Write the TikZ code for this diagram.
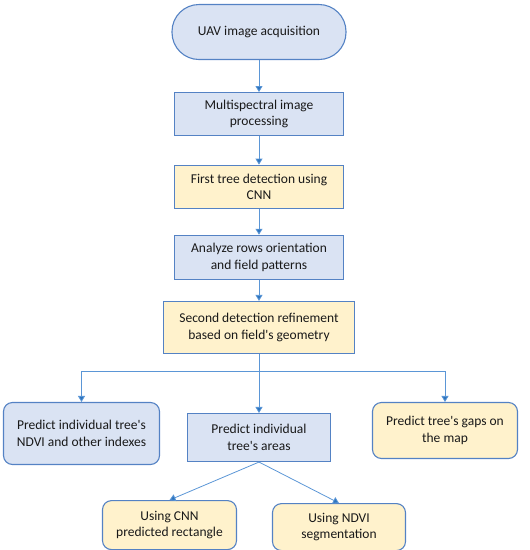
\documentclass[tikz,border=0pt]{standalone}
\usepackage{fontspec}
\setmainfont{Carlito}
\usetikzlibrary{arrows.meta, positioning}

\definecolor{boxline}{RGB}{84,130,196}
\definecolor{arrowline}{RGB}{91,150,214}
\definecolor{arrowtip}{RGB}{46,117,190}
\definecolor{bluefill}{RGB}{218,227,243}
\definecolor{yellowfill}{RGB}{255,242,204}
\newcommand{\apos}{\textquotesingle}

\begin{document}
\begin{tikzpicture}[
  every node/.style={draw=boxline, line width=1.1pt, rectangle, align=center, inner sep=0pt,
    font=\fontsize{13.5}{16.5}\selectfont, text=black!90},
  bluebox/.style={fill=bluefill},
  yellowbox/.style={fill=yellowfill},
  roundbox/.style={rounded corners=9pt},
  arrow/.style={-{Triangle[length=6pt,width=7pt,fill=arrowtip]}, draw=arrowline, line width=0.8pt}
]
\useasboundingbox (0,0) rectangle (530pt,-550pt);

% Main chain
\node[bluebox, rounded corners=27pt, minimum width=174pt, minimum height=55pt] (uav) at (259pt,-32pt) {UAV image acquisition};
\node[bluebox, minimum width=169pt, minimum height=43pt, below=32pt of uav] (multispectral) {Multispectral image\\processing};
\node[yellowbox, minimum width=169pt, minimum height=43pt, below=28.5pt of multispectral] (firstcnn) {First tree detection using\\CNN};
\node[bluebox, minimum width=169pt, minimum height=44pt, below=26pt of firstcnn] (rows) {Analyze rows orientation\\and field patterns};
\node[yellowbox, minimum width=191pt, minimum height=52pt, below=21pt of rows] (refinement) {Second detection refinement\\based on field\apos s geometry};

% Predictions
\node[bluebox, roundbox, minimum width=156pt, minimum height=62pt, below=48pt of refinement, xshift=-177.5pt] (ndvi) {Predict individual tree\apos s\\NDVI and other indexes};
\node[bluebox, minimum width=143pt, minimum height=48pt, below=59pt of refinement] (areas) {Predict individual\\tree\apos s areas};
\node[yellowbox, roundbox, minimum width=145pt, minimum height=56pt, below=48pt of refinement, xshift=186pt] (gaps) {Predict tree\apos s gaps on\\the map};

% Area methods
\node[yellowbox, roundbox, minimum width=134pt, minimum height=49pt, below=38pt of areas, xshift=-89.5pt] (rectangle) {Using CNN\\predicted rectangle};
\node[yellowbox, roundbox, minimum width=133pt, minimum height=47pt, below=41pt of areas, xshift=80pt] (segmentation) {Using NDVI\\segmentation};

% Arrows
\draw[arrow] (uav) -- (multispectral);
\draw[arrow] (multispectral) -- (firstcnn);
\draw[arrow] (firstcnn) -- (rows);
\draw[arrow] (rows) -- (refinement);
\draw[arrow] (refinement) -- (areas);
\draw[arrow] (refinement.south) -- ++(0,-17pt) -| (ndvi.north);
\draw[arrow] (refinement.south) -- ++(0,-17pt) -| (gaps.north);
\draw[arrow] (areas.south) -- (rectangle.north);
\draw[arrow] (areas.south) -- (segmentation.north);

\end{tikzpicture}
\end{document}
